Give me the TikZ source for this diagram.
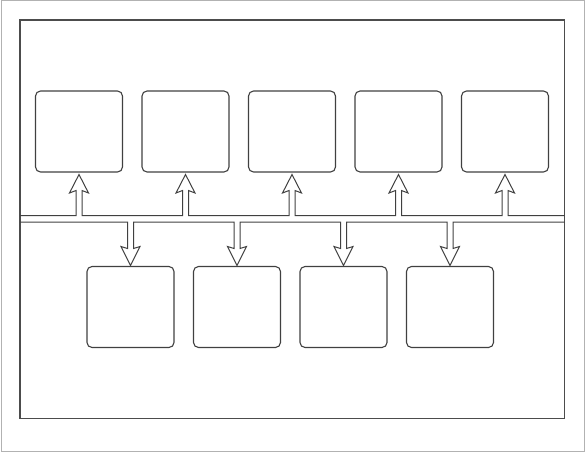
\documentclass[tikz,border=0pt]{standalone}
\begin{document}
\begin{tikzpicture}[x=1pt,y=-1pt,
  box/.style={draw=black!75,line width=1.1pt,rounded corners=5pt,minimum width=87pt,minimum height=81pt,inner sep=0pt,outer sep=0pt},
  frame/.style={draw=black!70,line width=1.5pt},
  outer/.style={draw=black!30,line width=1pt},
  band/.style={draw=black!75,line width=1pt,line join=miter}]
\useasboundingbox (0,0) rectangle (585,452);
\draw[outer] (1,1) rectangle (584,451);
\draw[frame] (20,20) rectangle (564.5,418.5);
% top boxes
\node[box] (t1) at (79,131.5) {};
\node[box] (t2) at (185.5,131.5) {};
\node[box] (t3) at (292,131.5) {};
\node[box] (t4) at (398.5,131.5) {};
\node[box] (t5) at (505,131.5) {};
% bottom boxes
\node[box] (b1) at (130.5,307) {};
\node[box] (b2) at (237,307) {};
\node[box] (b3) at (343.5,307) {};
\node[box] (b4) at (450,307) {};
% band top line with up arrows
\draw[band] (20,215.5)
  \foreach \c in {79,185.5,292,398.5,505} {
    -- (\c-3,215.5) -- (\c-3,190.5) -- (\c-9.5,193) -- (\c,174.5) -- (\c+9.5,193) -- (\c+3,190.5) -- (\c+3,215.5)
  } -- (564.5,215.5);
% band bottom line with down arrows
\draw[band] (20,222)
  \foreach \c in {130.5,237,343.5,450} {
    -- (\c-3,222) -- (\c-3,248.5) -- (\c-9.5,246.5) -- (\c,265.5) -- (\c+9.5,246.5) -- (\c+3,248.5) -- (\c+3,222)
  } -- (564.5,222);
\end{tikzpicture}
\end{document}
